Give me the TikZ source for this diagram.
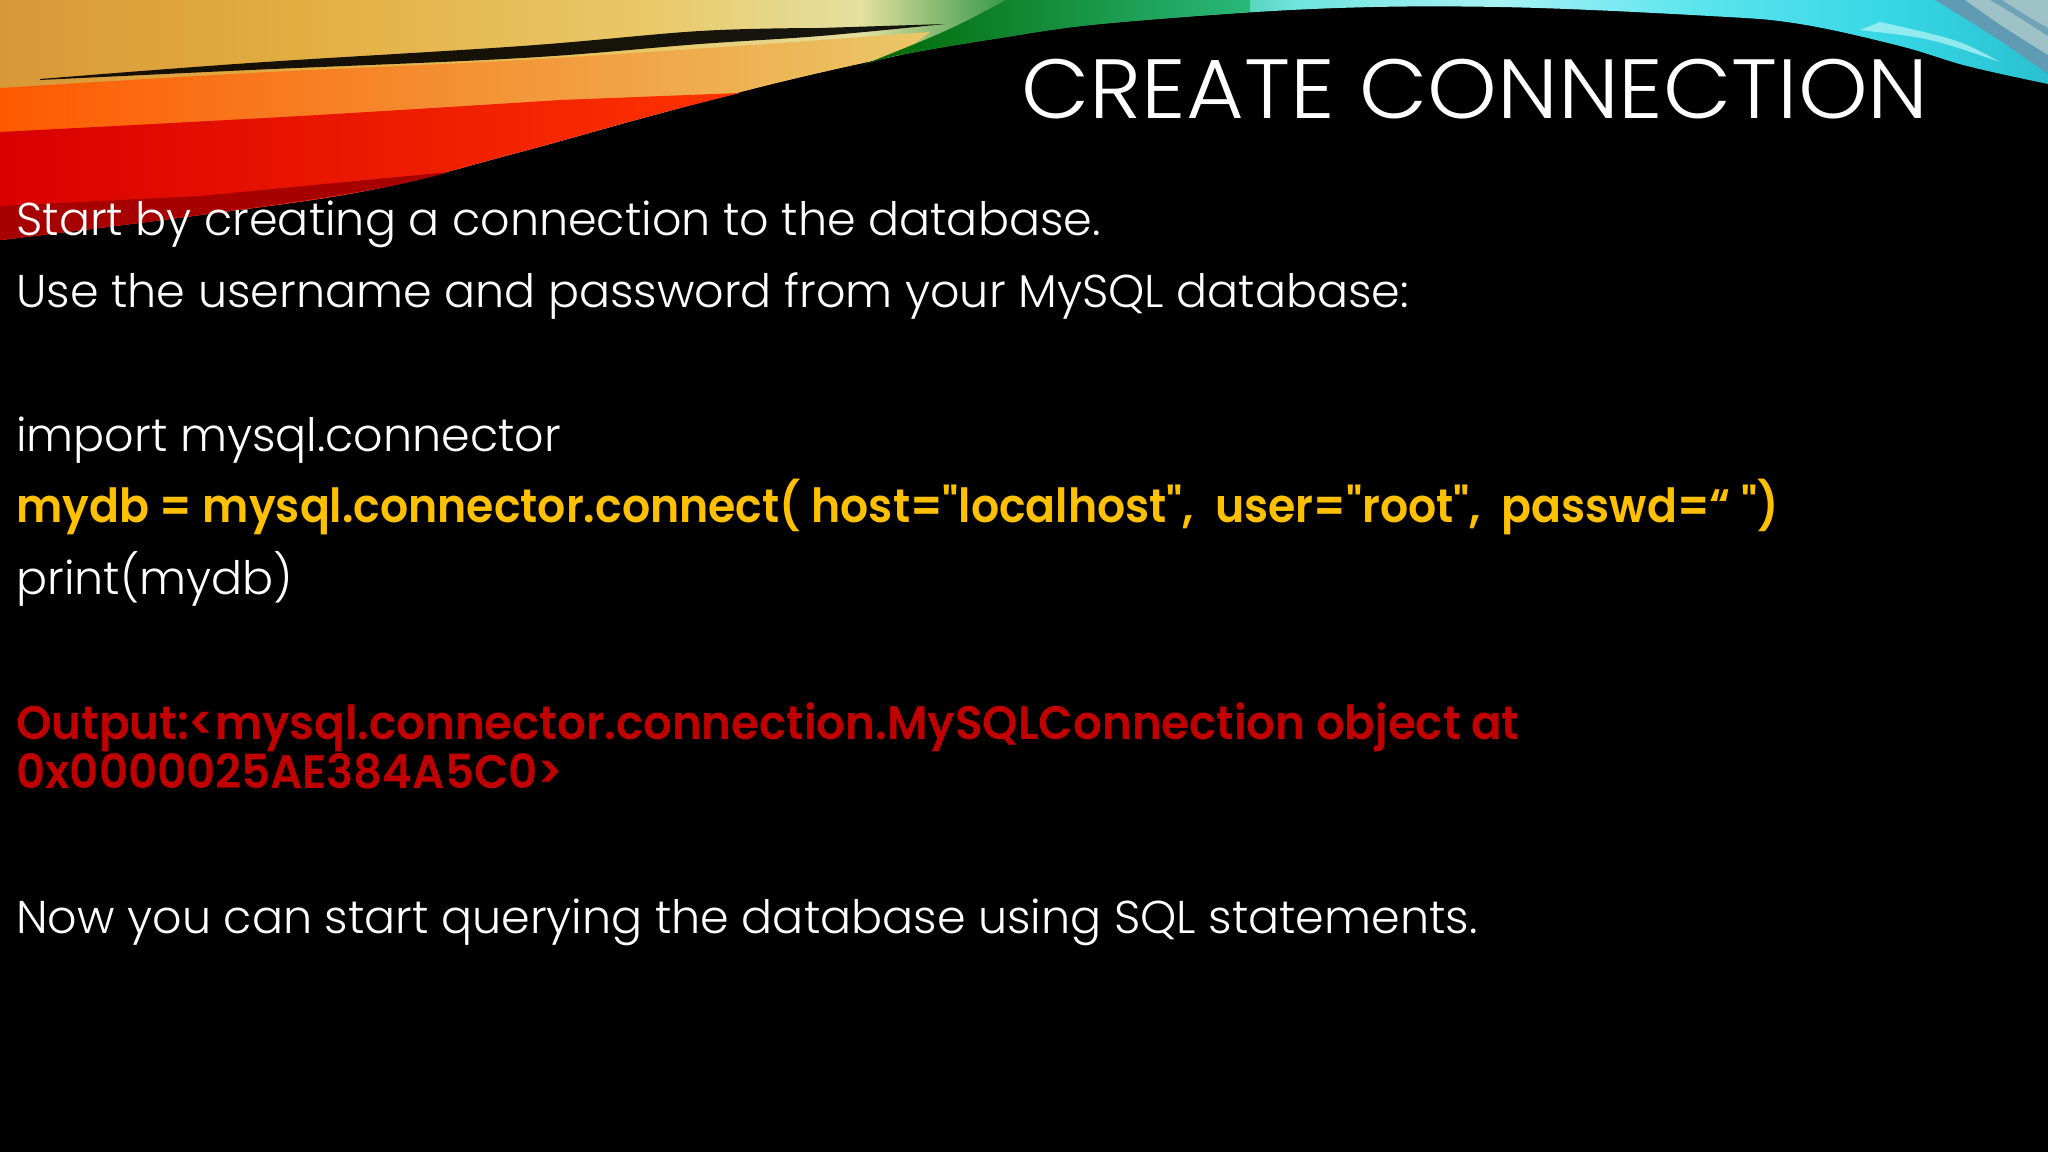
\documentclass[tikz,border=0pt]{standalone}
\usepackage{fontspec}
\setmainfont{Poppins Light}[BoldFont={Poppins SemiBold}]
\newfontfamily\headface{Poppins Light}[FakeStretch=1.055]
\newfontfamily\codeface{Poppins SemiBold}[FakeStretch=0.94]
\newfontfamily\outface{Poppins SemiBold}[FakeStretch=0.96]
\definecolor{codegold}{HTML}{FFC000}
\definecolor{outred}{HTML}{C00000}
\definecolor{s0}{HTML}{D89838}
\definecolor{s1}{HTML}{E2AE42}
\definecolor{s2}{HTML}{EAC868}
\definecolor{s3}{HTML}{E4E0A0}
\definecolor{s4}{HTML}{3E9C4E}
\definecolor{s5}{HTML}{2AB87A}
\definecolor{s6}{HTML}{70E4E0}
\definecolor{s7}{HTML}{A8F2F4}
\definecolor{s8}{HTML}{5AE4EE}
\definecolor{s9}{HTML}{36D6E4}
\definecolor{s10}{HTML}{2AC0D0}
\pgfdeclarehorizontalshading{swoosh}{100bp}{color(0bp)=(s0); color(25bp)=(s0); color(32.3bp)=(s1); color(40.9bp)=(s2); color(46bp)=(s3); color(49.4bp)=(s4); color(53.1bp)=(s5); color(56.7bp)=(s6); color(61.6bp)=(s7); color(66.5bp)=(s8); color(71.4bp)=(s9); color(75bp)=(s10); color(100bp)=(s10)}

\begin{document}
\begin{tikzpicture}[x=0.5pt,y=-0.5pt,
	heading/.style={anchor=base west,inner sep=0pt,text=white,font=\headface\fontsize{42}{48}\selectfont},
	plain/.style={anchor=base west,inner sep=0pt,text=white,font=\fontsize{23}{28}\selectfont},
	code/.style={plain,text=codegold,font=\codeface\fontsize{23.5}{28}\selectfont},
	result/.style={plain,text=outred,font=\outface\fontsize{23.5}{28}\selectfont}]

	\fill[black] (0,0) rectangle (2048,1152);
	\useasboundingbox (0,0) rectangle (2048,1152);

	% swoosh across the top
	\shade[shading=swoosh] (0,0) -- (2048,0) -- plot[smooth,tension=0.6] coordinates {(2048,84) (1967,66) (1900,46) (1800,24) (1710,16) (1500,7) (1312,9) (1100,24) (1000,38) (900,55) (780,82) (650,116) (520,152) (370,190) (200,215) (0,240)} -- cycle;
	\shade[left color=orange!70!red,right color=s2] plot[smooth,tension=0.6] coordinates {(0,240) (200,215) (370,190) (520,152) (650,116) (780,82) (900,55)} -- (930,32) -- plot[smooth,tension=0.6] coordinates {(780,43) (522,60) (250,73) (0,88)} -- cycle;
	\shade[left color=red!85!black,right color=red!60!orange] plot[smooth,tension=0.6] coordinates {(0,240) (200,215) (370,190) (520,152) (650,116) (740,93)} -- plot[smooth,tension=0.6] coordinates {(560,100) (300,116) (0,132)} -- cycle;
	\fill[red!65!black] plot[smooth,tension=0.6] coordinates {(0,240) (200,215) (370,190) (450,172)} -- plot[smooth,tension=0.6] coordinates {(200,196) (0,206)} -- cycle;
	\fill[black,opacity=0.9] plot[smooth,tension=0.6] coordinates {(40,80) (250,70) (522,58) (700,44) (820,36) (945,24)} -- plot[smooth,tension=0.6] coordinates {(820,28) (700,31) (522,46) (250,63) (40,79)} -- cycle;
	\shade[left color=green!40!black,right color=s5] plot[smooth,tension=0.6] coordinates {(860,66) (900,55) (1000,38) (1100,24) (1250,12)} -- (1250,0) -- (1006,0) .. controls (950,30) .. (860,66) -- cycle;
	\fill[s7,opacity=0.8] (1860,30) .. controls (1930,38) .. (2000,62) .. controls (1960,40) .. (1880,22) -- cycle;
	\fill[cyan!60!black!80] (1935,0) -- (1965,0) .. controls (2000,25) .. (2048,55) -- (2048,74) .. controls (2000,40) .. (1935,0) -- cycle;
	\fill[s10!40!gray!60] (1965,0) -- (2048,0) -- (2048,55) .. controls (2000,25) .. (1965,0) -- cycle;
	\fill[cyan!40!gray] (1990,0) -- (2002,0) .. controls (2025,15) .. (2048,28) -- (2048,36) .. controls (2020,18) .. (1990,0) -- cycle;

	\node[heading] (title) at (1021,118) {CREATE CONNECTION};

	\node[plain] (intro) at (16,235) {Start by creating a connection to the database.};
	\node[plain] (userline) at (16,307) {Use the username and password from your MySQL database:};
	\node[plain] (importline) at (16,451) {import mysql.connector};
	\node[code] (connectline) at (16,522) {mydb = mysql.connector.connect( host="localhost",\ \ user="root",\ \ passwd=“ ")};
	\node[plain] (printline) at (16,594) {print(mydb)};
	\node[result] (outputa) at (16,739) {Output:<mysql.connector.connection.MySQLConnection object at};
	\node[result] (outputb) at (16,788) {0x0000025AE384A5C0>};
	\node[plain] (closing) at (16,933) {Now you can start querying the database using SQL statements.};

\end{tikzpicture}
\end{document}
